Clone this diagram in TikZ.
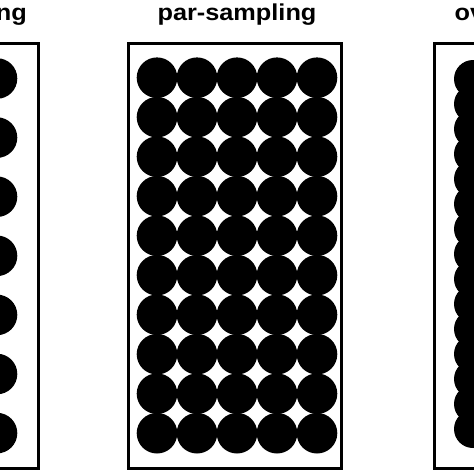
\documentclass[tikz,border=0pt]{standalone}
\usepackage{fontspec}
\setmainfont{Liberation Sans}
\begin{document}
\begin{tikzpicture}[x=1pt,y=-1pt,
  panel/.style={draw=black,line width=2.7pt,fill=none},
  dot/.style={fill=black},
  title/.style={font=\bfseries\fontsize{23}{23}\selectfont,anchor=base,inner sep=0pt,xscale=1.1}]
\useasboundingbox (0,0) rectangle (474,474);
\clip (0,0) rectangle (474,474);
% left panel (under-sampling)
\node[title] (tL) at (-68,20.7) {under-sampling};
\draw[panel] (-174.3,43.3) rectangle (38.3,468.2);
\foreach \k in {0,...,6}{\fill[dot] (-3,78.5+59.1*\k) circle (20.3);}
% middle panel (par-sampling)
\node[title] (tM) at (237,20.7) {par-sampling};
\draw[panel] (128.7,43.3) rectangle (341.3,468.2);
\foreach \i in {0,...,4}{\foreach \j in {0,...,9}{\fill[dot] (157+40*\i,77.7+39.5*\j) circle (20.3);}}
% right panel (over-sampling)
\node[title] (tR) at (541,20.7) {over-sampling};
\draw[panel] (434.7,43.3) rectangle (647.3,468.2);
\foreach \j in {0,...,14}{\fill[dot] (473,79+25*\j) circle (19);}
\end{tikzpicture}
\end{document}
